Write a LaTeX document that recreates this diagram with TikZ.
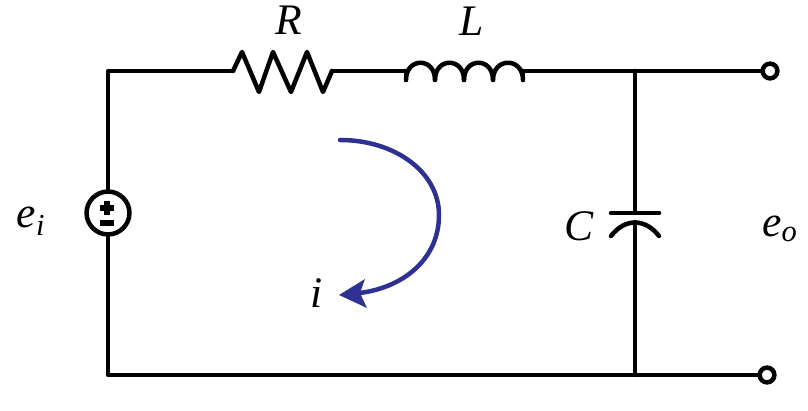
\documentclass[tikz,border=0pt]{standalone}
\usepackage{fontspec}
\setmainfont{Liberation Serif}
\usetikzlibrary{arrows.meta}
\definecolor{loopblue}{HTML}{2E3192}
\tikzset{
  wire/.style={line width=3.2pt,line cap=round,line join=round},
  lbl/.style={font=\fontsize{31}{35}\selectfont\itshape,inner sep=0pt},
  term/.style={circle,draw,line width=3.2pt,fill=white,inner sep=0pt,minimum size=10.5pt}
}
\begin{document}
\begin{tikzpicture}[x=0.025cm,y=-0.025cm]
\useasboundingbox (0,0) rectangle (808,411);

% corners and ends of the parts
\coordinate (topleft) at (108,71);
\coordinate (botleft) at (108,375);
\coordinate (resin) at (233,71);
\coordinate (resout) at (332,71);
\coordinate (indin) at (406,71);
\coordinate (indout) at (523,71);
\coordinate (toptee) at (635,71);
\coordinate (bottee) at (635,375);
\coordinate (capup) at (635,213);
\coordinate (capdown) at (635,222);

\node[circle,draw,line width=3.2pt,inner sep=0pt,minimum size=30.5pt] (source) at (108,213) {};
\node[term] (topout) at (770,71) {};
\node[term] (botout) at (767,375) {};

\node[lbl] (rlabel) at (289,20) {R};
\node[lbl] (llabel) at (472,21) {L};
\node[lbl] (clabel) at (579,226) {C};
\node[lbl] (eilabel) at (31,221) {e\textsubscript{i}};
\node[lbl] (eolabel) at (780,229) {e\textsubscript{o}};
\node[lbl] (ilabel) at (317,293) {i};

% wires
\draw[wire] (source) -- (topleft) -- (resin);
\draw[wire] (source) -- (botleft) -- (bottee) -- (botout);
\draw[wire] (resout) -- (indin);
\draw[wire] (indout) -- (toptee) -- (topout);
\draw[wire] (toptee) -- (capup);
\draw[wire] (capdown) -- (bottee);

% resistor
\draw[wire] (resin) -- (242,52) -- (259,92) -- (273,52) -- (291,92) -- (307,52) -- (323,92) -- (resout);

% inductor
\draw[wire] (indin) -- (406,80);
\draw[wire] (406,80) .. controls (406,57) and (435,57) .. (435,80);
\draw[wire] (435,80) .. controls (435,57) and (464,57) .. (464,80);
\draw[wire] (464,80) .. controls (464,57) and (493,57) .. (493,80);
\draw[wire] (493,80) .. controls (493,57) and (523,57) .. (523,80);
\draw[wire] (523,80) -- (indout);

% capacitor
\draw[wire] (611,213) -- (659,213);
\draw[wire] (611,236) .. controls (625,218) and (645,218) .. (659,236);

% source signs
\draw[line width=3.6pt] (100,208) -- (114,208);
\draw[line width=3.6pt] (107,201) -- (107,215);
\draw[line width=3.6pt] (100,223) -- (114,223);

% current
\draw[line width=3.2pt,color=loopblue,line cap=round] (340,140) .. controls (395,140) and (439,172) .. (439,215) .. controls (439,258) and (405,287) .. (360,293);
\fill[loopblue] (339,295) -- (365,279) -- (360,293) -- (367,308) -- cycle;
\end{tikzpicture}
\end{document}
